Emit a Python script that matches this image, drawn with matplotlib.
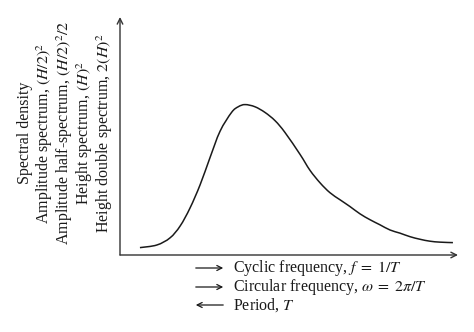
import matplotlib
matplotlib.use("Agg")
import matplotlib.pyplot as plt
from matplotlib.path import Path
from matplotlib.patches import PathPatch, FancyArrowPatch

plt.rcParams['font.family'] = ['Liberation Serif', 'DejaVu Serif']
plt.rcParams['mathtext.fontset'] = 'stix'

# Data (arbitrary units)
frequency = [0.59, 1.09, 1.48, 1.78, 2.07, 2.37, 2.66, 2.96, 3.30, 3.50, 3.70,
             3.99, 4.29, 4.59, 4.88, 5.33, 5.62, 5.92, 6.21, 6.51, 6.80, 7.10,
             7.40, 7.69, 7.99, 8.28, 8.58, 8.88, 9.17, 9.47, 9.85]
density = [0.31, 0.42, 0.72, 1.22, 1.97, 2.95, 4.08, 5.20, 5.99, 6.23, 6.32,
           6.23, 5.99, 5.64, 5.15, 4.22, 3.56, 3.03, 2.62, 2.32, 2.04, 1.73,
           1.48, 1.27, 1.05, 0.92, 0.77, 0.66, 0.58, 0.54, 0.52]

y_labels = [
    "Spectral density",
    r"Amplitude spectrum, $(H/2)^2$",
    r"Amplitude half-spectrum, $(H/2)^2/2$",
    r"Height spectrum, $(H)^2$",
    r"Height double spectrum, $2(H)^2$",
]
x_labels = [
    r"Cyclic frequency, $f\;=\;1/T$",
    r"Circular frequency, $\omega\;=\;2\pi/T$",
    r"Period, $T$",
]
x_arrow_dirs = ["->", "->", "<-"]


def smooth_path(xs, ys):
    """Cubic Bezier path passing through the given points (Catmull-Rom tangents)."""
    n = len(xs)
    verts = [(xs[0], ys[0])]
    codes = [Path.MOVETO]
    for i in range(n - 1):
        x0, y0 = (xs[i - 1], ys[i - 1]) if i > 0 else (xs[i], ys[i])
        x1, y1 = xs[i], ys[i]
        x2, y2 = xs[i + 1], ys[i + 1]
        x3, y3 = (xs[i + 2], ys[i + 2]) if i + 2 < n else (x2, y2)
        c1 = (x1 + (x2 - x0) / 6.0, y1 + (y2 - y0) / 6.0)
        c2 = (x2 - (x3 - x1) / 6.0, y2 - (y3 - y1) / 6.0)
        verts += [c1, c2, (x2, y2)]
        codes += [Path.CURVE4] * 3
    return Path(verts, codes)


fig = plt.figure(figsize=(4.74, 3.32), dpi=100)
ax = fig.add_axes([120/474, 1 - 255/332, 338/474, 238/332])
ax.add_patch(PathPatch(smooth_path(frequency, density), fill=False,
                       edgecolor='#1a1a1a', lw=1.1))
ax.set_xlim(0, 10)
ax.set_ylim(0, 10)
ax.set_axis_off()

ax_col = '#333333'
ax.annotate('', xy=(1.0, 0), xytext=(0, 0), xycoords='axes fraction',
            arrowprops=dict(arrowstyle='->', color=ax_col, lw=1.0, shrinkA=0, shrinkB=0,
                            mutation_scale=10))
ax.annotate('', xy=(0, 1.0), xytext=(0, 0), xycoords='axes fraction',
            arrowprops=dict(arrowstyle='->', color=ax_col, lw=1.0, shrinkA=0, shrinkB=0,
                            mutation_scale=10))

fs = 11.5
y_x = [25, 45, 65, 85, 105]
for lab, px in zip(y_labels, y_x):
    fig.text(px/474, 1 - 133/332, lab, rotation=90, ha='center', va='center',
             fontsize=fs, color='#1a1a1a')

rows = [268, 287, 305]
for lab, py, st in zip(x_labels, rows, x_arrow_dirs):
    yf = 1 - py/332
    fig.text(233/474, yf, lab, ha='left', va='center', fontsize=fs, color='#1a1a1a')
    fig.add_artist(FancyArrowPatch(
        (193/474, yf), (226/474, yf), transform=fig.transFigure,
        arrowstyle=st, mutation_scale=9, lw=0.9, color='#1a1a1a'))

fig.savefig("out.png", dpi=100)
